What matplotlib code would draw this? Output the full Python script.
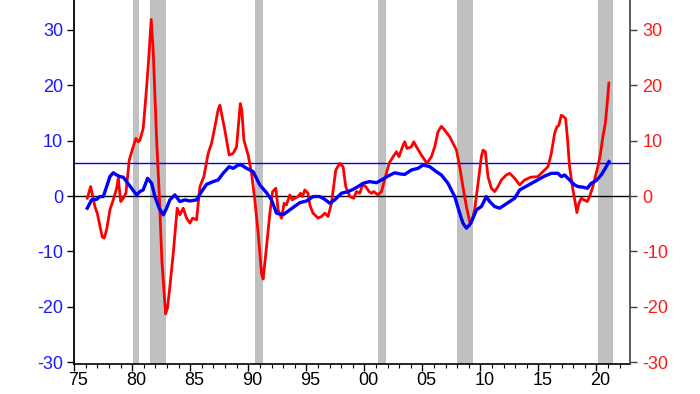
import numpy as np
import matplotlib
matplotlib.use("Agg")
import matplotlib.pyplot as plt
import matplotlib.transforms as mtransforms
from matplotlib.ticker import MultipleLocator, FixedLocator

# serie vermelha (eixo direito) - anos decimais e valores
red_t = [1976.12, 1976.41, 1976.78, 1976.98, 1977.41, 1977.58, 1977.79, 1978.07, 1978.36,
         1978.65, 1978.79, 1979.00, 1979.22, 1979.45, 1979.74, 1980.08, 1980.31, 1980.51,
         1980.66, 1980.94, 1981.15, 1981.37, 1981.63, 1981.80, 1982.10, 1982.32, 1982.55,
         1982.87, 1983.03, 1983.24, 1983.53, 1983.87, 1984.10, 1984.39, 1984.68, 1984.97,
         1985.20, 1985.54, 1985.83, 1986.17, 1986.54, 1986.83, 1987.12, 1987.40, 1987.55,
         1987.98, 1988.35, 1988.69, 1988.99, 1989.31, 1989.44, 1989.62, 1989.99, 1990.28,
         1990.56, 1990.85, 1991.14, 1991.28, 1991.57, 1991.86, 1992.09, 1992.37, 1992.57,
         1992.86, 1993.09, 1993.29, 1993.58, 1993.78, 1994.01, 1994.29, 1994.50, 1994.67,
         1994.87, 1995.15, 1995.30, 1995.58, 1996.02, 1996.31, 1996.59, 1996.88, 1997.17,
         1997.54, 1997.88, 1998.17, 1998.40, 1998.75, 1999.09, 1999.32, 1999.61, 1999.84,
         2000.12, 2000.41, 2000.62, 2000.81, 2001.18, 2001.48, 2001.76, 2002.13, 2002.48,
         2002.77, 2002.99, 2003.29, 2003.48, 2003.68, 2004.06, 2004.26, 2004.49, 2004.92,
         2005.21, 2005.40, 2005.78, 2006.07, 2006.35, 2006.64, 2006.93, 2007.36, 2007.94,
         2008.22, 2008.50, 2008.80, 2009.08, 2009.23, 2009.51, 2009.80, 2010.09, 2010.23,
         2010.43, 2010.66, 2010.95, 2011.23, 2011.52, 2011.81, 2012.24, 2012.53, 2012.96,
         2013.39, 2013.82, 2014.34, 2014.96, 2015.39, 2015.83, 2016.12, 2016.40, 2016.60,
         2016.77, 2016.98, 2017.20, 2017.35, 2017.50, 2017.69, 2017.98, 2018.19, 2018.32,
         2018.50, 2018.70, 2018.93, 2019.22, 2019.42, 2019.70, 2019.91, 2020.13, 2020.36,
         2020.56, 2020.77, 2020.94, 2021.08]
red_v = [-0.4, 1.7, -1.9, -3.1, -7.4, -7.6, -6.1, -2.5, -0.7,
         1.4, 3.2, -1.0, -0.4, 0.5, 6.5, 8.9, 10.4, 9.8,
         10.1, 12.2, 17.4, 23.4, 31.9, 26.4, 10.1, 0.5, -11.6,
         -21.3, -20.3, -16.4, -10.4, -2.2, -3.4, -2.2, -4.0, -4.9,
         -4.0, -4.3, 1.7, 3.5, 7.7, 9.5, 12.5, 15.6, 16.4,
         11.9, 7.4, 7.7, 8.9, 16.7, 15.5, 10.1, 7.4, 4.1,
         -0.7, -6.7, -14.0, -15.0, -9.2, -3.1, 0.8, 1.4, -2.5,
         -4.0, -1.3, -1.6, 0.2, -0.7, -0.4, -0.1, 0.5, -0.1,
         1.1, 0.5, -1.6, -3.1, -4.0, -3.7, -3.1, -3.7, -1.3,
         4.7, 5.9, 5.3, 1.7, -0.1, -0.4, 0.8, 0.5, 2.0,
         1.7, 0.8, 0.5, 0.8, 0.2, 0.8, 3.0, 5.9, 7.1,
         8.0, 7.1, 8.9, 9.8, 8.6, 8.9, 9.8, 8.9, 7.4,
         6.5, 5.9, 7.1, 8.9, 11.6, 12.6, 11.9, 10.7, 8.3,
         5.3, 1.7, -1.9, -4.6, -4.9, -2.5, 2.3, 7.1, 8.3,
         8.0, 3.5, 1.4, 0.8, 1.7, 2.9, 3.8, 4.1, 3.2,
         2.0, 2.9, 3.4, 3.5, 4.4, 5.3, 7.7, 11.3, 12.5,
         12.8, 14.6, 14.3, 14.0, 10.7, 5.3, 1.1, -1.3, -3.0,
         -1.3, -0.4, -0.7, -1.0, -0.1, 1.7, 3.5, 5.3, 7.7,
         10.7, 13.1, 16.8, 20.4]

# serie azul (eixo esquerdo)
blue_t = [1976.12, 1976.50, 1976.93, 1977.21, 1977.50, 1977.79, 1978.07, 1978.36, 1978.65,
          1978.94, 1979.22, 1979.51, 1979.94, 1980.37, 1980.66, 1980.94, 1981.32, 1981.67,
          1981.95, 1982.32, 1982.67, 1982.96, 1983.24, 1983.67, 1984.10, 1984.53, 1984.97,
          1985.54, 1985.97, 1986.40, 1986.97, 1987.40, 1987.83, 1988.35, 1988.69, 1989.13,
          1989.42, 1989.85, 1990.42, 1990.99, 1991.57, 1992.00, 1992.43, 1993.00, 1993.58,
          1994.44, 1995.02, 1995.58, 1996.16, 1996.59, 1997.02, 1997.45, 1998.03, 1998.60,
          1999.03, 1999.46, 1999.89, 2000.47, 2001.05, 2001.48, 2002.04, 2002.62, 2003.05,
          2003.48, 2004.06, 2004.63, 2005.06, 2005.64, 2006.21, 2006.64, 2007.21, 2007.79,
          2008.22, 2008.50, 2008.80, 2009.08, 2009.37, 2009.66, 2010.09, 2010.52, 2010.80,
          2011.23, 2011.67, 2012.10, 2012.53, 2012.96, 2013.39, 2013.82, 2014.68, 2015.54,
          2016.12, 2016.69, 2016.98, 2017.26, 2017.69, 2018.13, 2018.41, 2018.84, 2019.22,
          2019.56, 2019.99, 2020.42, 2020.77, 2021.08]
blue_v = [-2.2, -0.7, -0.6, -0.1, -0.1, 1.7, 3.5, 4.2, 3.8,
          3.5, 3.4, 2.6, 1.4, 0.2, 0.8, 1.1, 3.2, 2.3,
          -0.1, -2.2, -3.4, -2.2, -0.7, 0.2, -1.0, -0.7, -0.9,
          -0.7, 0.8, 2.1, 2.6, 2.9, 4.1, 5.3, 5.0, 5.6,
          5.6, 5.0, 4.4, 2.0, 0.6, -0.7, -3.1, -3.4, -2.5,
          -1.2, -0.9, -0.1, -0.1, -0.6, -1.3, -0.7, 0.5, 0.8,
          1.2, 1.7, 2.3, 2.6, 2.4, 2.9, 3.6, 4.2, 4.0,
          3.9, 4.7, 5.0, 5.6, 5.3, 4.4, 3.8, 2.3, -0.1,
          -3.1, -4.9, -5.8, -5.2, -4.0, -2.5, -1.9, -0.1, -1.0,
          -1.9, -2.2, -1.6, -1.0, -0.4, 1.1, 1.6, 2.6, 3.6,
          4.1, 4.1, 3.5, 3.8, 2.9, 2.0, 1.7, 1.6, 1.4,
          2.3, 2.8, 3.8, 5.0, 6.2]

# recessoes (inicio, fim)
rec_start = [1980.05, 1981.52, 1990.56, 2001.22, 2008.00, 2020.13]
rec_end = [1980.55, 1982.90, 1991.23, 2001.85, 2009.37, 2021.42]

ref_level = 6.0
year_ticks = [1975, 1980, 1985, 1990, 1995, 2000, 2005, 2010, 2015, 2020]
year_labels = ['75', '80', '85', '90', '95', '00', '05', '10', '15', '20']

plt.rcParams['font.family'] = ['Liberation Sans', 'DejaVu Sans']
plt.rcParams['axes.unicode_minus'] = False

fig = plt.figure(figsize=(7, 3.94), dpi=100)
ax = fig.add_axes([0.1061, 0.0761, 0.7939, 0.9239])

for a, b in zip(rec_start, rec_end):
    ax.axvspan(a, b, color='#c0c0c0', lw=0, zorder=1)

ax.axhline(0, color='black', lw=1.0, zorder=2)
ax.axhline(ref_level, color='#0000ff', lw=1.0, zorder=2)

ax.plot(red_t, red_v, color='#ff0000', lw=2.0, zorder=3)
ax.plot(blue_t, blue_v, color='#0000ff', lw=2.4, zorder=4)

ax.set_xlim(1975, 2022.9)
ax.set_ylim(-30.36, 35.42)

ax.xaxis.set_major_locator(FixedLocator(year_ticks))
ax.xaxis.set_minor_locator(MultipleLocator(1))
ax.set_xticklabels(year_labels)
ax.yaxis.set_major_locator(MultipleLocator(10))

ax.tick_params(axis='x', which='major', direction='out', length=5, width=1,
               labelsize=13, pad=1)
ax.tick_params(axis='x', which='minor', direction='out', length=3, width=0.8)
ax.tick_params(axis='y', direction='out', length=5, width=1, labelsize=13,
               labelcolor='#1a1aff', pad=3)

# rotulos do eixo x ligeiramente deslocados para a direita
offset = mtransforms.ScaledTranslation(4 / 100, 0, fig.dpi_scale_trans)
for lab in ax.get_xticklabels():
    lab.set_transform(lab.get_transform() + offset)

ax.spines['top'].set_visible(False)
ax.spines['right'].set_visible(False)
ax.spines['left'].set_linewidth(1.3)
ax.spines['bottom'].set_linewidth(1.2)

ax2 = ax.twinx()
ax2.set_ylim(ax.get_ylim())
ax2.yaxis.set_major_locator(MultipleLocator(10))
ax2.tick_params(axis='y', direction='out', length=5, width=1, labelsize=13,
                labelcolor='#ff1a1a', color='#404040', pad=4)
for s in ['top', 'left', 'bottom']:
    ax2.spines[s].set_visible(False)
ax2.spines['right'].set_color('#404040')
ax2.spines['right'].set_linewidth(1.2)

fig.savefig('out.png', dpi=100)
